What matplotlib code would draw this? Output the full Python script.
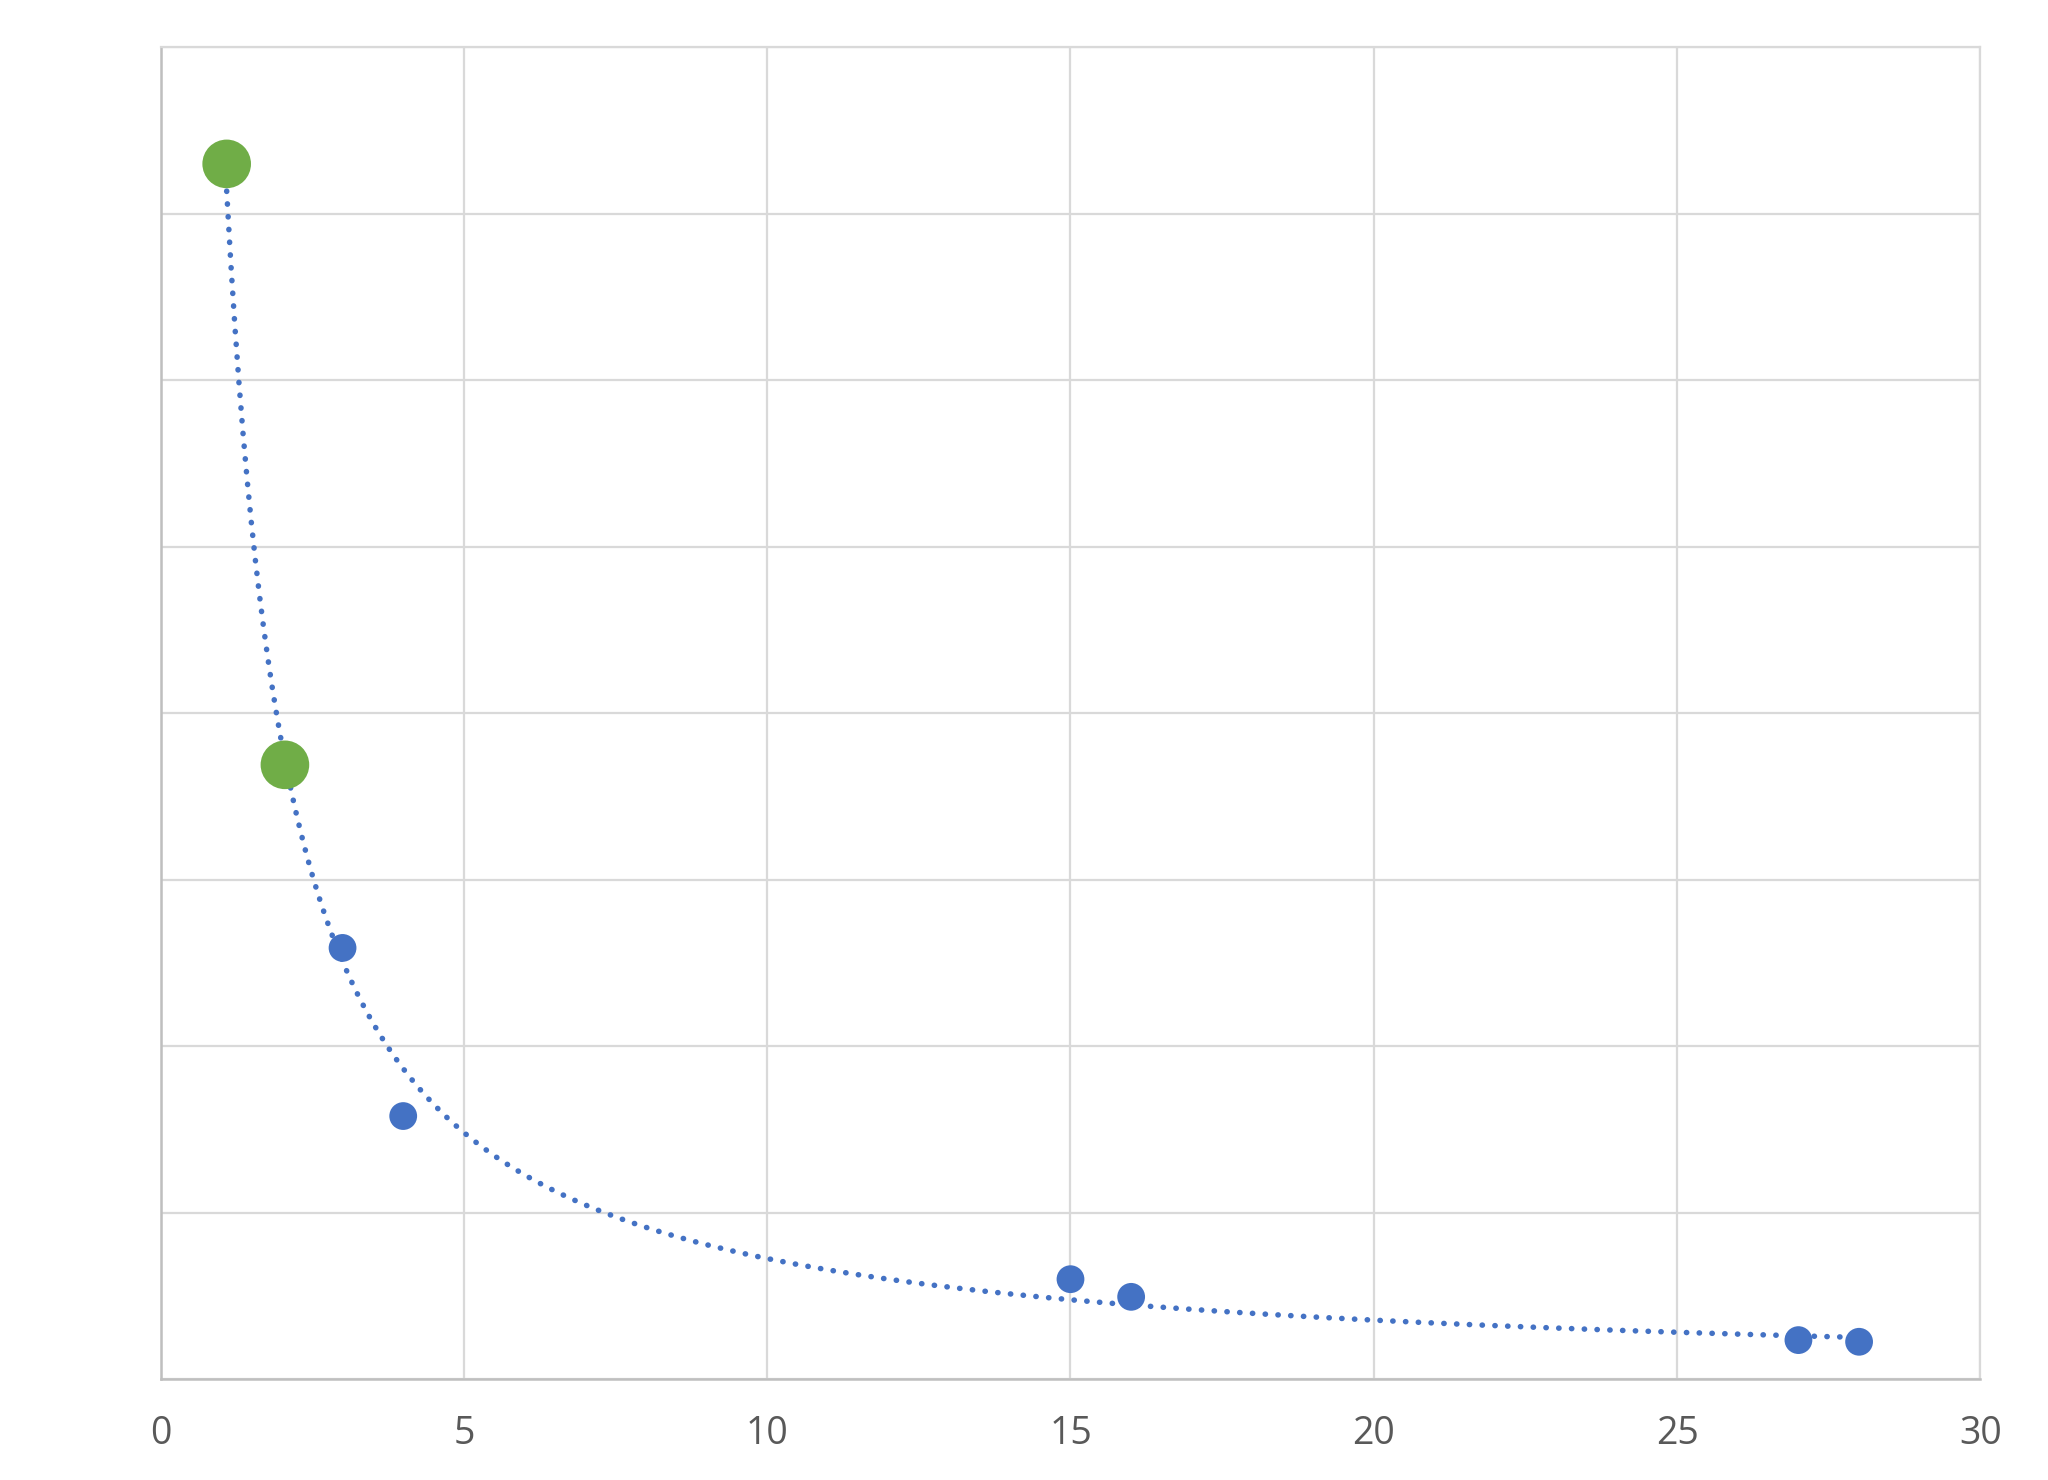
import numpy as np
import matplotlib.pyplot as plt

# Data (y in grid units, no y labels shown)
green_x = [1.09, 2.05]
green_y = [7.30, 3.69]
blue_x = [3, 4, 15, 16, 27, 28]
blue_y = [2.59, 1.58, 0.60, 0.494, 0.234, 0.224]
x_ticks = [0, 5, 10, 15, 20, 25, 30]

GREEN = "#70AD47"
BLUE = "#4472C4"
GRID = "#D9D9D9"
AXIS = "#BFBFBF"
TEXT = "#595959"

# Power trendline (Excel style: least squares in log-log space) over all points
all_x = np.array(green_x + blue_x, dtype=float)
all_y = np.array(green_y + blue_y, dtype=float)
b, ln_a = np.polyfit(np.log(all_x), np.log(all_y), 1)
trend_x = np.linspace(all_x.min(), all_x.max(), 400)
trend_y = np.exp(ln_a) * trend_x ** b

fig = plt.figure(figsize=(20.48, 14.8), dpi=100)
ax = fig.add_axes([0.0784, 0.0682, 0.967 - 0.0784, 0.968 - 0.0682])

ax.plot(trend_x, trend_y, color=BLUE, linewidth=4.0,
        linestyle=(0, (0.05, 2.25)), dash_capstyle="round", zorder=2)
ax.scatter(blue_x, blue_y, s=400, color=BLUE, edgecolors="none", zorder=3)
ax.scatter(green_x, green_y, s=1225, color=GREEN, edgecolors="none", zorder=4)

ax.set_xlim(0, 30)
ax.set_ylim(0, 8)
ax.set_xticks(x_ticks)
ax.set_yticks(np.arange(0, 9, 1))
ax.set_yticklabels([])
ax.grid(True, color=GRID, linewidth=1.6, zorder=0)
ax.set_axisbelow(True)

ax.tick_params(axis="both", length=0)
ax.tick_params(axis="x", pad=26, labelsize=27, labelcolor=TEXT)
for lab in ax.get_xticklabels():
    lab.set_fontfamily("Open Sans")

for side in ["top", "right"]:
    ax.spines[side].set_color(GRID)
    ax.spines[side].set_linewidth(1.6)
for side in ["left", "bottom"]:
    ax.spines[side].set_color(AXIS)
    ax.spines[side].set_linewidth(1.8)

fig.savefig("out.png", dpi=100, facecolor="white")
